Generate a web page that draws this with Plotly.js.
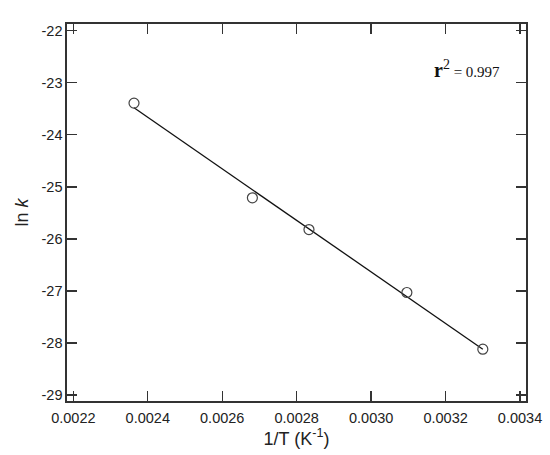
<!DOCTYPE html>
<html>
<head>
<meta charset="utf-8">
<script src="https://cdn.plot.ly/plotly-3.0.1.min.js"></script>
<style>html,body{margin:0;padding:0;background:#fff;}#chart{width:550px;height:455px;}</style>
</head>
<body>
<div id="chart"></div>
<script>
// measured points
var invT = [0.002363, 0.002681, 0.002833, 0.003096, 0.003300];
var lnk = [-23.39, -25.21, -25.82, -27.03, -28.12];
// fitted line endpoints
var fitX = [0.002363, 0.003300];
var fitY = [-23.48, -28.12];
var xTicks = [0.0022, 0.0024, 0.0026, 0.0028, 0.0030, 0.0032, 0.0034];
var xTickText = ['0.0022', '0.0024', '0.0026', '0.0028', '0.0030', '0.0032', '0.0034'];
var yTicks = [-29, -28, -27, -26, -25, -24, -23, -22];
var yTickText = ['-29', '-28', '-27', '-26', '-25', '-24', '-23', '-22'];
var r2Text = '0.997';

var traces = [
  {x: fitX, y: fitY, mode: 'lines', line: {color: '#111', width: 1.3}, hoverinfo: 'skip', showlegend: false},
  {x: invT, y: lnk, mode: 'markers', marker: {symbol: 'circle-open', size: 10, color: '#444', line: {width: 1.2, color: '#444'}}, showlegend: false}
];

var axisCommon = {
  showgrid: false, zeroline: false, showline: true, linecolor: '#333', linewidth: 1.6,
  ticks: 'inside', ticklen: 10, tickwidth: 1.3, tickcolor: '#333', mirror: 'allticks',
  tickfont: {family: 'Liberation Sans, Arial, sans-serif', size: 14.5, color: '#222'}
};

var layout = {
  width: 550, height: 455,
  margin: {l: 67, r: 24, t: 24, b: 54},
  paper_bgcolor: '#fff', plot_bgcolor: '#fff',
  xaxis: Object.assign({}, axisCommon, {
    range: [0.002183, 0.003416], tickvals: xTicks, ticktext: xTickText, ticklabelstandoff: 3,
    title: {text: '1/T (K<sup>-1</sup>)', font: {family: 'Liberation Sans, Arial, sans-serif', size: 18, color: '#222'}, standoff: 2}
  }),
  yaxis: Object.assign({}, axisCommon, {
    range: [-29.115, -21.87], tickvals: yTicks, ticktext: yTickText,
    title: {text: 'ln <i>k</i>', font: {family: 'Liberation Sans, Arial, sans-serif', size: 18, color: '#222'}, standoff: 8}
  }),
  annotations: [{
    xref: 'paper', yref: 'paper', x: 0.795, y: 0.88, xanchor: 'left', yanchor: 'middle', showarrow: false,
    text: '<b>r</b><sup>2</sup><span style="font-size:15px"> = ' + r2Text + '</span>',
    font: {family: 'Liberation Serif, Times New Roman, serif', size: 20, color: '#111'}
  }]
};

Plotly.newPlot('chart', traces, layout, {displayModeBar: false, staticPlot: true});
</script>
</body>
</html>
